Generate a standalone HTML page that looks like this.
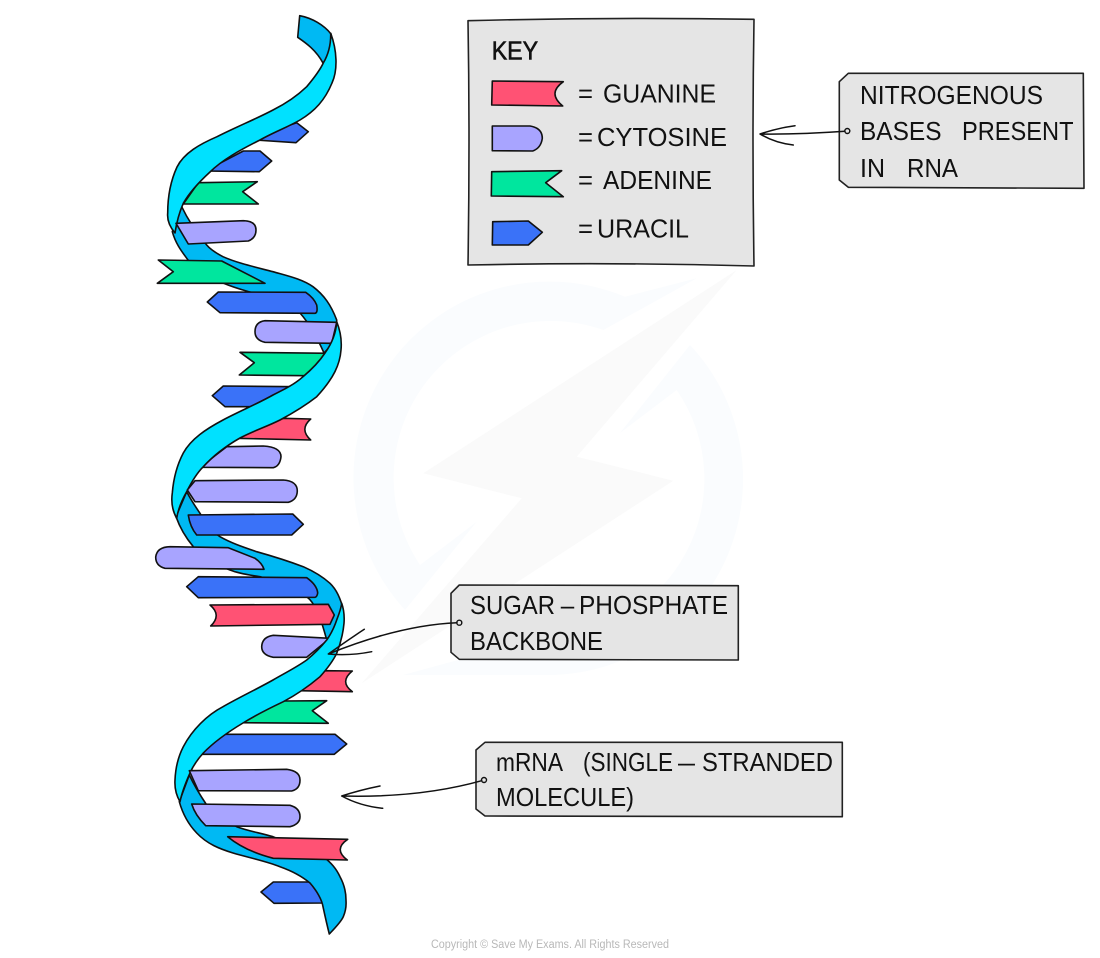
<!DOCTYPE html>
<html>
<head>
<meta charset="utf-8">
<style>
html,body{margin:0;padding:0;background:#fff;width:1100px;height:958px;overflow:hidden}
svg{display:block}
text{font-family:"Liberation Sans",sans-serif;font-size:26px;fill:#111}
.k{stroke:#111;stroke-width:1.6;stroke-linejoin:round;stroke-linecap:round}
.f{fill:#00e1ff}.b{fill:#00b9f3}
.g{fill:#ff5274}.c{fill:#a8a4ff}.a{fill:#00e69e}.u{fill:#3a72f8}
.box{fill:#e5e5e5;stroke:#222;stroke-width:1.6;stroke-linejoin:round}
.l{fill:none;stroke:#111;stroke-width:1.5;stroke-linecap:round}
</style>
</head>
<body>
<svg width="1100" height="958" viewBox="0 0 1100 958" xmlns="http://www.w3.org/2000/svg">
<!-- watermark -->
<g fill="#fafcfe">
<path d="M405,610 A196,196 0 0 1 625,296.7 L696.7,278.3 L603.3,330 A157,157 0 0 0 420,565 L476.7,521.7 Z"/>
<path d="M690,345 A196,196 0 0 1 553,675 L403,675 L546,636 A157,157 0 0 0 676.7,390 L620,433 Z"/>
</g>
<polygon fill="#fafafa" points="736.7,270 576.7,456.7 673.3,480.7 361.7,683.3 521.7,498.3 423.3,473.3"/>

<!-- helix: lowest uracil -->
<path class="k u" d="M273.3,882 L310,882 L325,903 L274,903.3 L261,892 Z"/>

<!-- back ribbons -->
<path class="k b" d="M299.7,15.7 C312,18 324,25 331,34 L334,50 L323,63 C316,50 306,43 297.7,37.3 Z"/>
<path class="k b" d="M172.3,231.7 C176,245 183,253 188,260 C198,272 210,279 223,283 C235,288 243,290 250,292 C270,296 288,303 300,313 C308,322 316,335 324,353 L336,340 L336.7,320 C331,305 324,295 313,286.7 C302,279 288,276 273,271.7 C255,267 237,263 223,256.7 C214,252 210,249 206.7,245 C196,232 188,220 181.7,206.7 Z"/>
<path class="k b" d="M176,516.7 C180,528 186,538 193.3,546.7 C203,557 216,565 230,570 C240,574 250,575 260,576.7 C278,582 295,589 306.7,596.7 C315,603 320,615 326.7,640 L342,620 L343.3,610 C341,600 337,590 330,583.3 C323,577 313,571 303.3,566.7 C288,561 272,556 256.7,551.7 C243,547 231,543 220,536.7 C210,530 205,522 200,513.3 C195,506 190,498 186.7,491.7 Z"/>
<path class="k b" d="M179.3,801.7 C183,815 189,825 196.7,833 C207,844 220,849 233,853 C250,858 266,861 280,866.7 C295,872 304,878 310,883 C317,891 322,900 323,906.7 C325,916 327,925 329.3,934 C335,928 341,922 343.3,916.7 C347,908 346,903 346,900 C346,892 344,884 340,876.7 C336,868 331,863 325,858 L273,836.7 C261,833 248,831 236.7,826.7 C225,821 214,815 206.7,805 C200,795 194,785 189.3,775 Z"/>

<!-- bases under front ribbons -->
<path class="k u" d="M255,137 L296.7,122.7 L308.3,131.7 L296,142.7 L255,140 Z"/>
<path class="k u" d="M243.3,151 L260,151 L271.7,161 L259.3,171.7 L205,171 Z"/>
<path class="k a" d="M198.3,182.7 L257.3,181.7 L242.7,191.7 L258.3,204 L183.3,204 Z"/>
<path class="k a" d="M158.3,260 L221.7,261 L265,283.3 L157.3,283.3 L173.3,271.7 Z"/>
<path class="k u" d="M218.3,292 L305.7,292.3 Q314,298 316.7,305 Q318,313 315,313.3 L220,312.7 L207.3,302 Z"/>
<path class="k c" d="M265,320.7 L336.7,322.3 L331.7,343.3 L265,342.3 Q255,340 255,331.7 Q255,322 265,320.7 Z"/>
<path class="k a" d="M240,352.3 L330,353.3 L305.7,375.7 L239.3,375 L254.3,362.7 Z"/>
<path class="k u" d="M223.3,386 L295,386.7 L255,406.7 L225,406.7 L212.3,395.7 Z"/>
<path class="k g" d="M310.7,419 L283.3,418.3 L235,438.3 L310.7,440 Q299,429.3 310.7,419 Z"/>
<path class="k c" d="M226.7,446.7 L263.3,446 Q281,447 281,456.7 Q280,466 273.3,467.7 L200,467.3 Z"/>
<path class="k u" d="M188.3,515 L292.7,514 L303.3,524.3 L291.7,535 L196.7,535 Q190,527 188.3,515 Z"/>
<path class="k c" d="M170,546.7 L228.3,547.7 L255,558.3 Q262,563 264,569.3 L165,568.3 Q155.7,566 155.7,557 Q157,547 170,546.7 Z"/>
<path class="k u" d="M198.3,576.7 L306.7,577.7 Q317,585 317.7,593 Q317,597 315,597.3 L198.3,597.7 L186.7,586.7 Z"/>
<path class="k g" d="M210,605 L328.3,604.3 L334.3,615 L330,624.3 L210.7,626 Q222,615 210,605 Z"/>
<path class="k c" d="M273.3,635.3 L330,638.3 L306.7,657.3 L273.3,657.3 Q261.7,655 261.7,646.7 Q262,637 273.3,635.3 Z"/>
<path class="k g" d="M352.3,671 L325,670.7 L298,690.7 L352.3,691.7 Q339,681.7 352.3,671 Z"/>
<path class="k a" d="M326.7,700.7 L283.3,701 L238,722.7 L328.3,723.3 L312.3,710.7 Z"/>
<path class="k u" d="M223.3,734.3 L335,734.3 L346.7,744 L334.3,754.3 L198,754.3 Z"/>
<path class="k c" d="M191.7,804 L290,805.3 Q300,808 300,816.7 Q300,824 290,826.7 L205.7,825.7 Q195,815 191.7,804 Z"/>
<path class="k g" d="M227.7,836.7 L347.7,839.3 Q333,849.3 347.3,860 L273.3,858.3 Q245,851 227.7,836.7 Z"/>

<!-- front ribbons -->
<path class="k f" d="M330.7,33.3 C337,50 338,70 332,83 C325,100 315,111 300,120 C288,127 272,133 260,140 C240,150 222,160 210,172 C198,183 188,195 183.3,203.3 C179,213 176.5,223 175,233 C169,226 167,220 167.7,213 C167.7,195 171,180 177,167 C184,153 200,144 217,136.7 C236,127 256,119 273,110 C285,104 297,96 306.7,86.7 C314,78 320,70 323.3,63 C328,55 331,46 330.7,33.3 Z"/>
<path class="k f" d="M336.7,321.7 C340,330 342,340 341,350 C340,364 334,378 316.7,396.7 C306,405 293,413 280,420 C266,427 253,431 240,438 C226,446 214,455 203.3,466.7 C196,474 191,483 186.7,491.7 C182,500 178,509 176.7,518.3 C172,510 171,502 172.3,493 C173.5,478 177,465 183.3,453 C191,439 206,429 223,420 C240,411 257,404 273,395 C285,389 295,384 303,376.7 C311,370 319,362 325,353 C330,346 336,335 336.7,321.7 Z"/>
<path class="k f" d="M341.7,603.3 C344,610 344.5,617 344,623.3 C343,634 340,645 336.7,653.3 C332,663 326,670 320,676.7 C309,686 296,695 283.3,701.7 C270,708 256,715 243,723 C228,732 214,742 203.3,753 C197,760 193,766 190,773 C186,782 182,792 180,801.7 C176,795 174.5,788 175,780 C175.5,768 178,757 183.3,746.7 C192,730 207,715 223,706.7 C240,697 257,689 273,680 C285,673 297,667 306.7,660 C314,654 321,647 326.7,640 C331,634 334,628 336.7,620 C339,614 341,609 341.7,603.3 Z"/>

<!-- bases above ribbons -->
<path class="k c" d="M176,223.3 L243.3,220.7 Q256,221 256,230 Q256,238 248.3,241 L188.3,244 Z"/>
<path class="k c" d="M187.3,490 L195,480.7 L283.3,480 Q297.3,481 297.3,491 Q297,500 288.3,502.3 L195,501.7 Z"/>
<path class="k c" d="M189.3,770.7 L286.7,769.3 Q300,771 300,780 Q300,789 291.7,791 L198.3,790.7 Z"/>

<!-- key -->
<path class="box" d="M468,20.7 Q610,17 754,19.3 Q752,140 754,266 Q610,262 468,265 Q470,140 468,20.7 Z"/>
<text x="491.7" y="59.3" textLength="46.5" lengthAdjust="spacingAndGlyphs" stroke="#111" stroke-width=".6">KEY</text>
<path class="k g" d="M492.3,81 L563.3,81.7 Q547,93.3 562.7,106 L491.7,105 Z"/>
<path class="k c" d="M492.3,126 L530,126 Q542.3,128 542.3,138.3 Q541,148 532.7,151 L492.3,150.7 Z"/>
<path class="k a" d="M491.7,171.7 L561.7,170.7 L545.7,182.7 L563.3,196.7 L491.3,196 Z"/>
<path class="k u" d="M492.7,221.7 L528.3,221 L542.3,232.3 L528.3,245 L492.3,245 Z"/>
<text x="578" y="102.7" textLength="15" lengthAdjust="spacingAndGlyphs">=</text>
<text x="603" y="102.7" textLength="113" lengthAdjust="spacingAndGlyphs">GUANINE</text>
<text x="578" y="146" textLength="15" lengthAdjust="spacingAndGlyphs">=</text>
<text x="597" y="146" textLength="130" lengthAdjust="spacingAndGlyphs">CYTOSINE</text>
<text x="578" y="189" textLength="15" lengthAdjust="spacingAndGlyphs">=</text>
<text x="603" y="189" textLength="109" lengthAdjust="spacingAndGlyphs">ADENINE</text>
<text x="578" y="237.7" textLength="15" lengthAdjust="spacingAndGlyphs">=</text>
<text x="597" y="237.7" textLength="92" lengthAdjust="spacingAndGlyphs">URACIL</text>

<!-- tag 1 -->
<path class="box" d="M848.3,73.3 L1083.3,73.3 L1084,188.3 L848.3,187.3 L839.3,180 L839.3,81.7 Z"/>
<text x="860" y="104" textLength="183" lengthAdjust="spacingAndGlyphs">NITROGENOUS</text>
<text x="860" y="140" textLength="81.5" lengthAdjust="spacingAndGlyphs">BASES</text>
<text x="962" y="140" textLength="111.5" lengthAdjust="spacingAndGlyphs">PRESENT</text>
<text x="860" y="177" textLength="25" lengthAdjust="spacingAndGlyphs">IN</text>
<text x="907" y="177" textLength="51" lengthAdjust="spacingAndGlyphs">RNA</text>
<path class="l" d="M845,131.3 Q800,134.5 760,134 Q778,128 795,125.7 M760,134 Q775,143 793.3,145"/>
<circle cx="847.3" cy="131" r="2.5" fill="none" stroke="#111" stroke-width="1.4"/>

<!-- tag 2 -->
<path class="box" d="M459.3,585 L738.3,585.7 L738.3,660 L459.3,659.3 L451,652.3 L451,593.3 Z"/>
<text x="470" y="614" textLength="85" lengthAdjust="spacingAndGlyphs">SUGAR</text>
<text x="560.7" y="614" textLength="13.5" lengthAdjust="spacingAndGlyphs">–</text>
<text x="579" y="614" textLength="149" lengthAdjust="spacingAndGlyphs">PHOSPHATE</text>
<text x="470" y="650" textLength="133" lengthAdjust="spacingAndGlyphs">BACKBONE</text>
<path class="l" d="M457,622.7 Q400,625 328.3,654 Q348,640 364.3,629.3 M328.3,654 Q350,656 371.7,651.7"/>
<circle cx="459.3" cy="622.7" r="2.5" fill="none" stroke="#111" stroke-width="1.4"/>

<!-- tag 3 -->
<path class="box" d="M485,742.3 L842.3,742.3 L842.3,816.7 L485,816 L476,809 L476,750 Z"/>
<text x="496" y="771" textLength="67" lengthAdjust="spacingAndGlyphs">mRNA</text>
<text x="583" y="771" textLength="90" lengthAdjust="spacingAndGlyphs">(SINGLE</text>
<text x="678" y="771" textLength="17" lengthAdjust="spacingAndGlyphs">–</text>
<text x="702" y="771" textLength="131" lengthAdjust="spacingAndGlyphs">STRANDED</text>
<text x="496" y="806" textLength="138" lengthAdjust="spacingAndGlyphs">MOLECULE)</text>
<path class="l" d="M481.7,780.7 Q420,798 341.7,796 Q360,790 380,786 M341.7,796 Q360,806 382.7,808.3"/>
<circle cx="484" cy="780" r="2.5" fill="none" stroke="#111" stroke-width="1.4"/>

<text x="431" y="948" textLength="238" lengthAdjust="spacingAndGlyphs" style="font-size:11.5px;fill:#b8b8b8">Copyright © Save My Exams. All Rights Reserved</text>
</svg>
</body>
</html>
